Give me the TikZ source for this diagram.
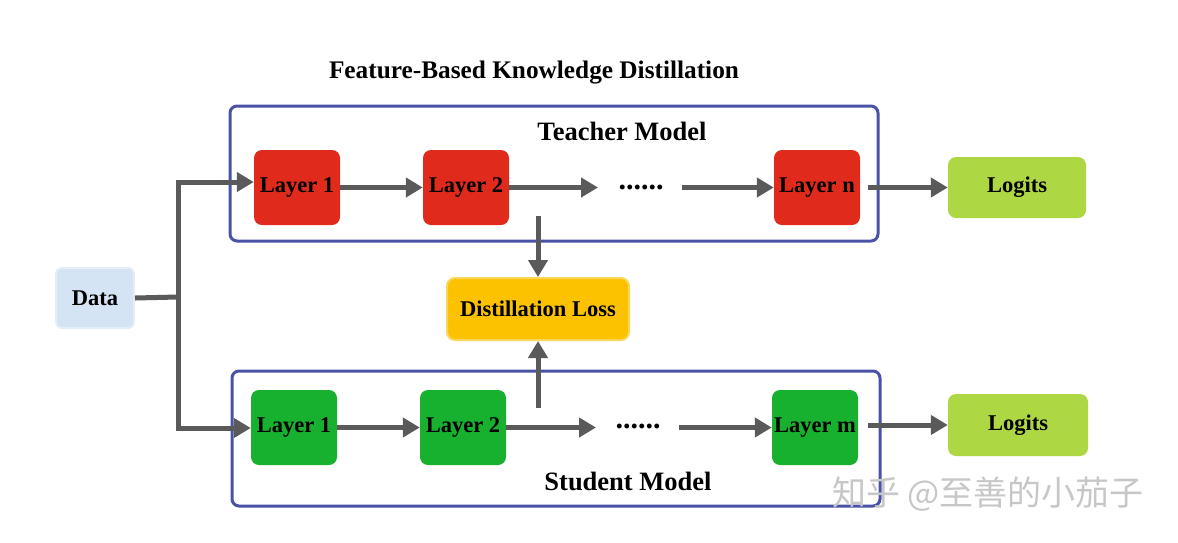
\documentclass[tikz,border=0pt]{standalone}
\usepackage{fontspec}
\setmainfont{Liberation Serif}
\newfontfamily\cjk{Noto Sans CJK SC}
\usetikzlibrary{arrows.meta}
\definecolor{boxblue}{HTML}{4A52A8}
\definecolor{tred}{HTML}{E02B1C}
\definecolor{sgreen}{HTML}{18B02F}
\definecolor{logitg}{HTML}{AED843}
\definecolor{datab}{HTML}{D5E4F4}
\definecolor{datab2}{HTML}{E4EEF9}
\definecolor{lossy}{HTML}{FCC200}
\definecolor{lossy2}{HTML}{FAD65A}
\definecolor{arrg}{HTML}{5A5A5A}
\tikzset{
  lbl/.style={font=\fontsize{22.5}{27}\selectfont\bfseries},
  layerbox/.style={lbl, rounded corners=8pt, minimum width=86pt, minimum height=75pt, inner sep=0pt},
  tlayer/.style={layerbox, fill=tred},
  slayer/.style={layerbox, fill=sgreen},
  logitbox/.style={lbl, rounded corners=8pt, fill=logitg, inner sep=0pt},
  dots/.style={font=\fontsize{30}{34}\selectfont\bfseries, inner sep=0pt},
  modelbox/.style={draw=boxblue, line width=3pt, rounded corners=7pt},
  conn/.style={draw=arrg, line width=5pt},
  arr/.style={conn, -{Triangle[length=17pt,width=19pt]}},
}
\begin{document}
\begin{tikzpicture}[x=1pt,y=-1pt]
\useasboundingbox (0,0) rectangle (1178,542);
% title
\node[font=\fontsize{25.3}{30}\selectfont\bfseries] (title) at (534,73) {Feature-Based Knowledge Distillation};
% model boxes
\draw[modelbox] (230,106) rectangle (878,241);
\draw[modelbox] (232,371) rectangle (880,506);
\node[font=\fontsize{26.5}{31}\selectfont\bfseries] (tm) at (622,131) {Teacher Model};
\node[font=\fontsize{26.5}{31}\selectfont\bfseries] (sm) at (628,481) {Student Model};
% teacher layers
\node[tlayer] (T1) at (297,187.5) {Layer 1};
\node[tlayer] (T2) at (466,187.5) {Layer 2};
\node[dots] (Td) at (641,187) {......};
\node[tlayer] (Tn) at (817,187.5) {Layer n};
\node[logitbox, minimum width=138pt, minimum height=61pt] (LT) at (1017,187.5) {Logits};
% student layers
\node[slayer] (S1) at (294,427.5) {Layer 1};
\node[slayer] (S2) at (463,427.5) {Layer 2};
\node[dots] (Sd) at (638,426) {......};
\node[slayer] (Sm) at (815,427.5) {Layer m};
\node[logitbox, minimum width=140pt, minimum height=62pt] (LS) at (1018,425) {Logits};
% data
\node[lbl, fill=datab, draw=datab2, line width=2pt, rounded corners=6pt, minimum width=78pt, minimum height=60pt, inner sep=0pt] (D) at (95,298) {Data};
% loss
\node[lbl, fill=lossy, draw=lossy2, line width=2pt, rounded corners=8pt, minimum width=182pt, minimum height=62pt, inner sep=0pt] (DL) at (538,309) {Distillation Loss};
% coordinates
\coordinate (J) at (178,297);
\coordinate (JT) at (178,182);
\coordinate (JS) at (178,428);
\coordinate (T2e) at (598,187.5);
\coordinate (Tds) at (682,187.5);
\coordinate (S2e) at (596,427.5);
\coordinate (Sds) at (679,427.5);
\coordinate (TLs) at (538,216);
\coordinate (SLs) at (538,408);
\path ([xshift=8pt]Tn.east) coordinate (Tne);
\path ([xshift=10pt]Sm.east) coordinate (Sme0);
\coordinate (Sme) at (Sme0 |- LS.west);
% connectors
\draw[conn] (D.east) -- (J);
\draw[arr] (JS) -- (JT) -- (T1.west |- JT);
\draw[arr] (J) -- (JS) -- (S1.west |- JS);
\draw[arr] (T1) -- (T2);
\draw[arr] (T2.east) -- (T2e);
\draw[arr] (Tds) -- (Tn.west);
\draw[arr] (Tne) -- (LT.west);
\draw[arr] (S1) -- (S2);
\draw[arr] (S2.east) -- (S2e);
\draw[arr] (Sds) -- (Sm.west);
\draw[arr] (Sme) -- (LS.west);
\draw[arr] (TLs) -- (DL.north);
\draw[arr] (SLs) -- (DL.south);
% watermark
\node[font=\cjk\fontsize{34}{38}\selectfont, text=black!22] (wm) at (988,494) {知乎 @至善的小茄子};
\end{tikzpicture}
\end{document}
